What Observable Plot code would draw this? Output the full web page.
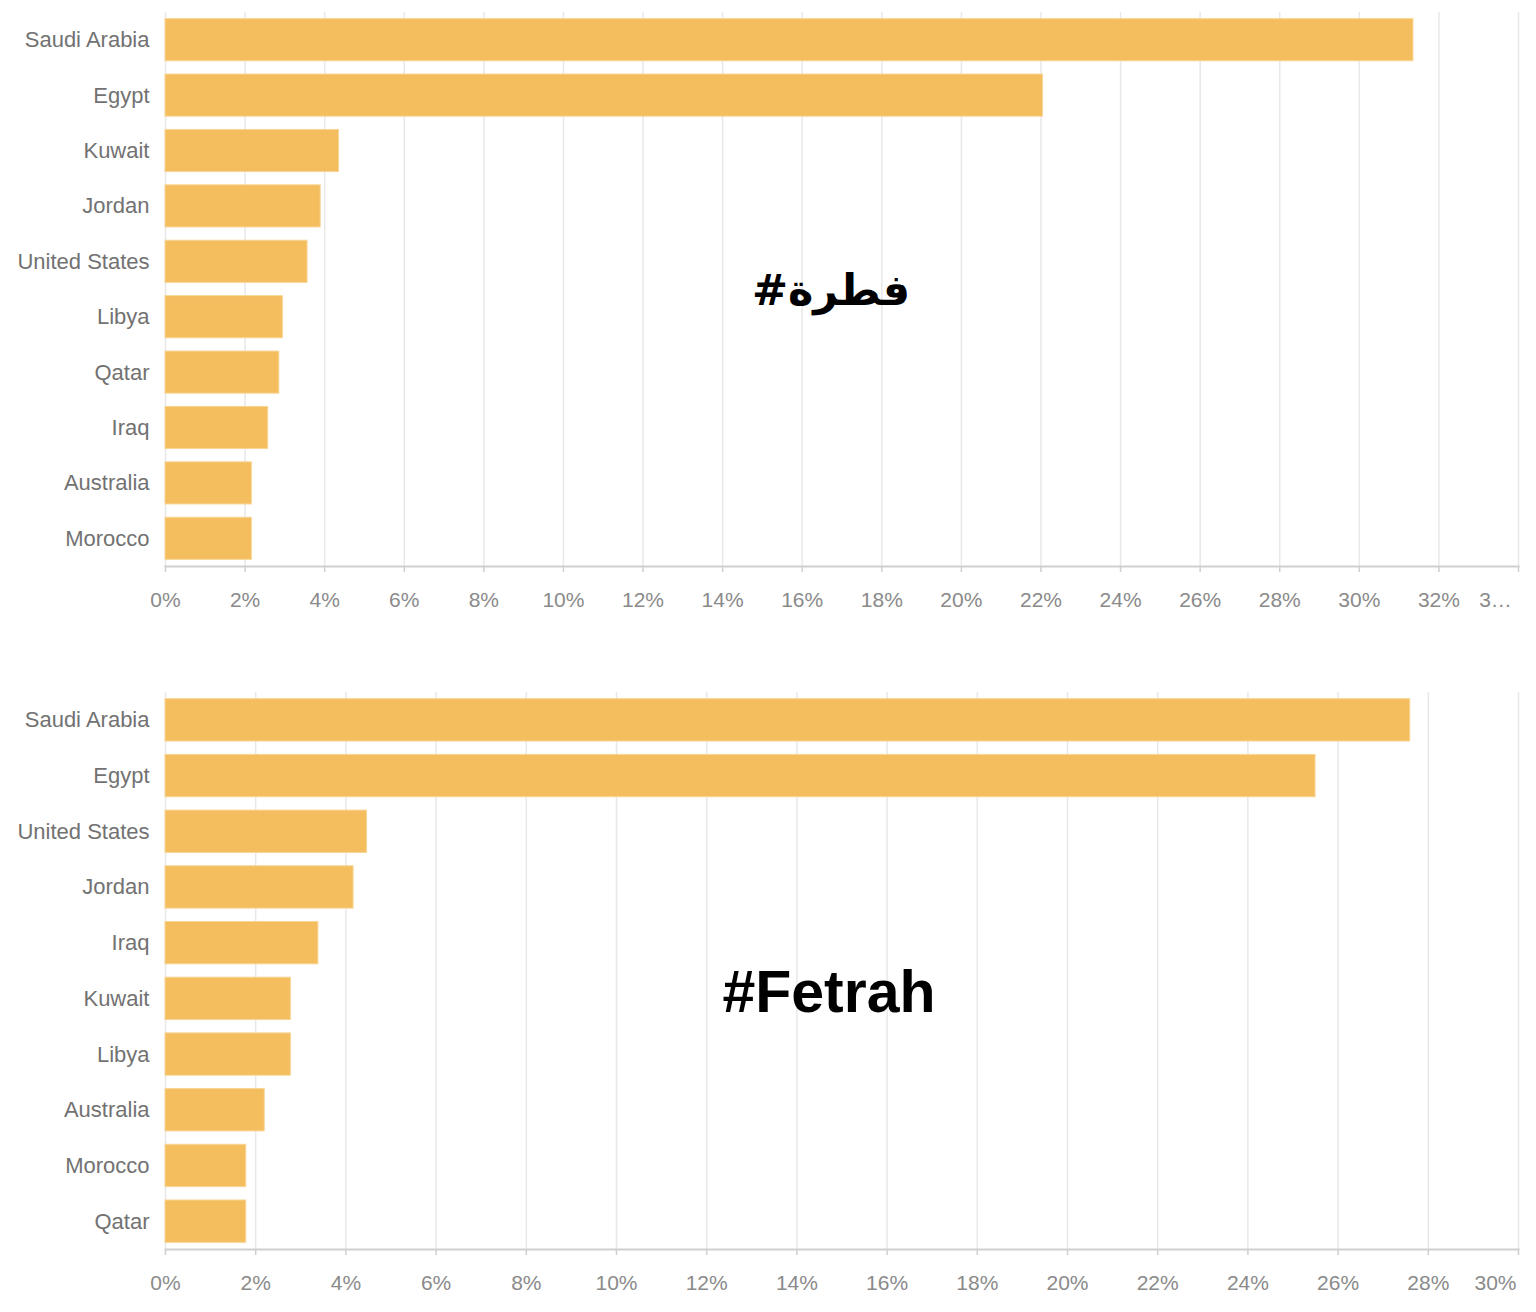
<!DOCTYPE html>
<html>
<head>
<meta charset="utf-8">
<script src="https://cdn.jsdelivr.net/npm/d3@7"></script>
<script src="https://cdn.jsdelivr.net/npm/@observablehq/plot@0.6"></script>
<style>
  html, body { margin: 0; padding: 0; background: #fff; }
  #app svg { display: block; }
</style>
</head>
<body>
<div id="app"></div>
<script>
// ---- Data ----
const topTitle = "#فطرة";
const topCountries = ["Saudi Arabia", "Egypt", "Kuwait", "Jordan", "United States", "Libya", "Qatar", "Iraq", "Australia", "Morocco"];
const topValues = [31.36, 22.05, 4.36, 3.9, 3.57, 2.95, 2.86, 2.58, 2.17, 2.17];
const topTicks = [0, 2, 4, 6, 8, 10, 12, 14, 16, 18, 20, 22, 24, 26, 28, 30, 32, 34];
const topLastLabel = "3…";

const bottomTitle = "#Fetrah";
const bottomCountries = ["Saudi Arabia", "Egypt", "United States", "Jordan", "Iraq", "Kuwait", "Libya", "Australia", "Morocco", "Qatar"];
const bottomValues = [27.6, 25.5, 4.47, 4.17, 3.39, 2.78, 2.78, 2.2, 1.79, 1.79];
const bottomTicks = [0, 2, 4, 6, 8, 10, 12, 14, 16, 18, 20, 22, 24, 26, 28, 30];
const bottomLastLabel = "30%";

function chart({countries, values, ticks, lastLabel, title, titleFont, titleSize, titleDx, titleDy, height, marginTop, marginBottom}) {
  const data = countries.map((c, i) => ({country: c, value: values[i]}));
  const last = ticks[ticks.length - 1];
  return Plot.plot({
    width: 1536,
    height,
    marginLeft: 165,
    marginRight: 18,
    marginTop,
    marginBottom,
    style: {fontFamily: "'Liberation Sans', Arial, sans-serif", fontSize: "21px", background: "white"},
    x: {domain: [0, last], axis: null, label: null},
    y: {domain: countries, axis: null, label: null, paddingInner: 0.24, paddingOuter: 0.12, round: false},
    marks: [
      Plot.ruleX(ticks, {stroke: "#e8e8e8", strokeWidth: 1.5}),
      Plot.barX(data, {y: "country", x: "value", fill: "#F4BD5E", stroke: "#F8D595", strokeWidth: 1}),
      Plot.frame({anchor: "bottom", stroke: "#cfcfcf", strokeWidth: 2}),
      Plot.axisX({ticks, label: null, tickSize: 6, tickPadding: 20, stroke: "#cfcfcf", strokeWidth: 1.5,
        fill: "#8a8a8a", tickFormat: d => d === last ? "" : d + "%"}),
      Plot.text([last], {x: d => d, frameAnchor: "bottom", dy: 34, dx: -23, lineAnchor: "middle",
        text: () => lastLabel, fill: "#8a8a8a", fontSize: 21}),
      Plot.axisY({label: null, tickSize: 0, tickPadding: 16, fill: "#727272", fontSize: 22}),
      Plot.text([title], {frameAnchor: "middle", dx: titleDx, dy: titleDy, text: d => d, fontFamily: titleFont,
        fontWeight: "bold", fontSize: titleSize, fill: "black"})
    ]
  });
}

const app = document.getElementById("app");
app.append(chart({
  countries: topCountries, values: topValues, ticks: topTicks, lastLabel: topLastLabel,
  title: topTitle, titleFont: "'DejaVu Sans', sans-serif", titleSize: 43, titleDx: -11, titleDy: 2,
  height: 640, marginTop: 12, marginBottom: 74
}));
app.append(chart({
  countries: bottomCountries, values: bottomValues, ticks: bottomTicks, lastLabel: bottomLastLabel,
  title: bottomTitle, titleFont: "'Liberation Sans', Arial, sans-serif", titleSize: 59, titleDx: -13, titleDy: 22,
  height: 672, marginTop: 52, marginBottom: 63
}));
</script>
</body>
</html>
